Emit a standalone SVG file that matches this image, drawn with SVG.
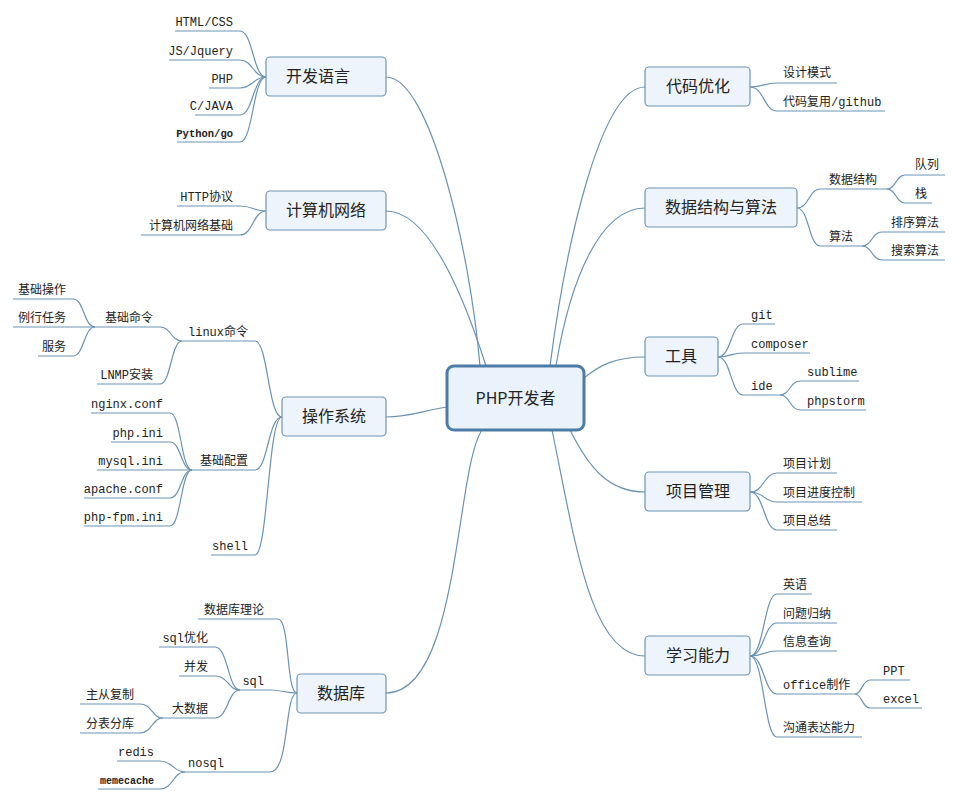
<svg xmlns="http://www.w3.org/2000/svg" width="958" height="800" viewBox="0 0 958 800">
<style>
.c{fill:none;stroke:#6a93b3;stroke-width:1.2}
.m{fill:#eef4fb;stroke:#6f93b3;stroke-width:1.2}
.ctr{fill:#eaf2fb;stroke:#4c7ca6;stroke-width:3}
.t{font-family:"Noto Sans CJK SC","Noto Sans",sans-serif;font-size:16px;fill:#222;text-anchor:middle}
.l{font-family:"Liberation Mono","Noto Sans CJK SC",monospace;font-size:12px;fill:#222}
.e{text-anchor:end}
</style>
<rect width="958" height="800" fill="#fff"/>
<g id="connectors">
<path class="c" d="M386 77 C430 77,470 250,480 366"/>
<path class="c" d="M386 211 C430 211,465 300,486 366"/>
<path class="c" d="M386 417 C410 417,425 410,447 407"/>
<path class="c" d="M386 693 C460 693,455 470,482 430"/>
<path class="c" d="M645 87 C600 87,565 250,550 366"/>
<path class="c" d="M645 208 C600 208,570 280,556 366"/>
<path class="c" d="M645 357 C615 357,600 365,584 378"/>
<path class="c" d="M645 492 C610 492,590 470,570 430"/>
<path class="c" d="M645 656 C590 656,575 540,552 430"/>
<path class="c" d="M175 31 H240 C253 31,253 77,266 77"/>
<path class="c" d="M169 60 H240 C253 60,253 77,266 77"/>
<path class="c" d="M209 88 H240 C253 88,253 77,266 77"/>
<path class="c" d="M195 115 H240 C253 115,253 77,266 77"/>
<path class="c" d="M177 142 H240 C253 142,253 77,266 77"/>
<path class="c" d="M177 206 H240 C253 206,253 211,266 211"/>
<path class="c" d="M141 235 H240 C253 235,253 211,266 211"/>
<path class="c" d="M182 341 H255 C268 341,268 417,282 417"/>
<path class="c" d="M192 470 H255 C268 470,268 417,282 417"/>
<path class="c" d="M211 555 H255 C268 555,268 417,282 417"/>
<path class="c" d="M95 327 H160 C171 327,171 341,182 341"/>
<path class="c" d="M97 384 H160 C171 384,171 341,182 341"/>
<path class="c" d="M13 299 H73 C84 299,84 327,95 327"/>
<path class="c" d="M13 327 H95"/>
<path class="c" d="M38 356 H73 C84 356,84 327,95 327"/>
<path class="c" d="M91 413 H170 C181 413,181 470,192 470"/>
<path class="c" d="M111 442 H170 C181 442,181 470,192 470"/>
<path class="c" d="M97 470 H192"/>
<path class="c" d="M84 498 H170 C181 498,181 470,192 470"/>
<path class="c" d="M84 526 H170 C181 526,181 470,192 470"/>
<path class="c" d="M198 619 H278 C290 619,286 693,297 693"/>
<path class="c" d="M240 690 H270 C283 690,284 693,297 693"/>
<path class="c" d="M185 772 H270 C290 772,284 693,297 693"/>
<path class="c" d="M159 647 H215 C228 647,228 690,240 690"/>
<path class="c" d="M179 676 H215 C228 676,228 690,240 690"/>
<path class="c" d="M163 718 H215 C228 718,228 690,240 690"/>
<path class="c" d="M80 704 H140 C152 704,152 718,163 718"/>
<path class="c" d="M80 733 H140 C152 733,152 718,163 718"/>
<path class="c" d="M117 761 H160 C173 761,173 772,185 772"/>
<path class="c" d="M98 789 H160 C173 789,173 772,185 772"/>
<path class="c" d="M750 87 C764 87,764 83,777 83 H837"/>
<path class="c" d="M750 87 C764 87,764 111,777 111 H885"/>
<path class="c" d="M797 208 C809 208,809 189,820 189 H887"/>
<path class="c" d="M797 208 C809 208,809 246,820 246 H862"/>
<path class="c" d="M887 189 C896 189,896 175,905 175 H945"/>
<path class="c" d="M887 189 C896 189,896 203,905 203 H932"/>
<path class="c" d="M862 246 C872 246,872 232,882 232 H945"/>
<path class="c" d="M862 246 C872 246,872 260,882 260 H945"/>
<path class="c" d="M718 357 C731 357,731 324,743 324 H775"/>
<path class="c" d="M718 357 C731 357,731 353,743 353 H810"/>
<path class="c" d="M718 357 C731 357,731 395,743 395 H780"/>
<path class="c" d="M780 395 C790 395,790 381,800 381 H859"/>
<path class="c" d="M780 395 C790 395,790 410,800 410 H866"/>
<path class="c" d="M750 492 C764 492,764 473,777 473 H837"/>
<path class="c" d="M750 492 C764 492,764 502,777 502 H862"/>
<path class="c" d="M750 492 C764 492,764 530,777 530 H837"/>
<path class="c" d="M750 656 C764 656,764 594,777 594 H812"/>
<path class="c" d="M750 656 C764 656,764 623,777 623 H837"/>
<path class="c" d="M750 656 C764 656,764 651,777 651 H837"/>
<path class="c" d="M750 656 C764 656,764 694,777 694 H855"/>
<path class="c" d="M750 656 C764 656,764 737,777 737 H862"/>
<path class="c" d="M855 694 C862 694,862 680,870 680 H910"/>
<path class="c" d="M855 694 C862 694,862 708,870 708 H922"/>
</g>
<g id="center"><rect class="ctr" x="447" y="366" width="137" height="64" rx="7"/><text class="t" x="515.5" y="404">PHP开发者</text></g>
<g id="n-kaifa"><rect class="m" x="266" y="57" width="120" height="39" rx="4"/><text class="t" x="318" y="82">开发语言</text></g>
<g id="n-wangluo"><rect class="m" x="266" y="191" width="120" height="39" rx="4"/><text class="t" x="326" y="216">计算机网络</text></g>
<g id="n-os"><rect class="m" x="282" y="397" width="104" height="39" rx="4"/><text class="t" x="334" y="422">操作系统</text></g>
<g id="n-db"><rect class="m" x="297" y="674" width="89" height="39" rx="4"/><text class="t" x="341" y="699">数据库</text></g>
<g id="n-code"><rect class="m" x="645" y="67" width="105" height="39" rx="4"/><text class="t" x="698" y="92">代码优化</text></g>
<g id="n-ds"><rect class="m" x="645" y="188" width="152" height="39" rx="4"/><text class="t" x="721" y="213">数据结构与算法</text></g>
<g id="n-tool"><rect class="m" x="645" y="337" width="73" height="39" rx="4"/><text class="t" x="681" y="362">工具</text></g>
<g id="n-pm"><rect class="m" x="645" y="472" width="105" height="39" rx="4"/><text class="t" x="698" y="497">项目管理</text></g>
<g id="n-learn"><rect class="m" x="645" y="636" width="105" height="39" rx="4"/><text class="t" x="698" y="661">学习能力</text></g>
<g id="leaves-left">
<text class="l e" x="233" y="26">HTML/CSS</text>
<text class="l e" x="233" y="55">JS/Jquery</text>
<text class="l e" x="233" y="83">PHP</text>
<text class="l e" x="233" y="110">C/JAVA</text>
<text class="l e" x="233" y="137" style="font-size:10.5px;font-weight:bold">Python/go</text>
<text class="l e" x="233" y="201">HTTP协议</text>
<text class="l e" x="233" y="230">计算机网络基础</text>
<text class="l e" x="248" y="336">linux命令</text>
<text class="l e" x="153" y="322">基础命令</text>
<text class="l e" x="153" y="379">LNMP安装</text>
<text class="l e" x="66" y="294">基础操作</text>
<text class="l e" x="66" y="322">例行任务</text>
<text class="l e" x="66" y="351">服务</text>
<text class="l e" x="163" y="408">nginx.conf</text>
<text class="l e" x="163" y="437">php.ini</text>
<text class="l e" x="163" y="465">mysql.ini</text>
<text class="l e" x="163" y="493">apache.conf</text>
<text class="l e" x="163" y="521">php-fpm.ini</text>
<text class="l e" x="248" y="465">基础配置</text>
<text class="l e" x="248" y="550">shell</text>
<text class="l e" x="264" y="614">数据库理论</text>
<text class="l e" x="264" y="685">sql</text>
<text class="l e" x="224" y="767">nosql</text>
<text class="l e" x="208" y="642">sql优化</text>
<text class="l e" x="208" y="671">并发</text>
<text class="l e" x="208" y="713">大数据</text>
<text class="l e" x="134" y="699">主从复制</text>
<text class="l e" x="134" y="728">分表分库</text>
<text class="l e" x="154" y="756">redis</text>
<text class="l e" x="154" y="784" style="font-size:10px;font-weight:bold">memecache</text>
</g>
<g id="leaves-right">
<text class="l" x="783" y="77">设计模式</text>
<text class="l" x="783" y="106">代码复用/github</text>
<text class="l" x="829" y="184">数据结构</text>
<text class="l" x="829" y="241">算法</text>
<text class="l" x="915" y="169">队列</text>
<text class="l" x="915" y="198">栈</text>
<text class="l" x="891" y="227">排序算法</text>
<text class="l" x="891" y="255">搜索算法</text>
<text class="l" x="751" y="319">git</text>
<text class="l" x="751" y="348">composer</text>
<text class="l" x="751" y="390">ide</text>
<text class="l" x="807" y="376">sublime</text>
<text class="l" x="807" y="405">phpstorm</text>
<text class="l" x="783" y="468">项目计划</text>
<text class="l" x="783" y="497">项目进度控制</text>
<text class="l" x="783" y="525">项目总结</text>
<text class="l" x="783" y="589">英语</text>
<text class="l" x="783" y="618">问题归纳</text>
<text class="l" x="783" y="646">信息查询</text>
<text class="l" x="783" y="689">office制作</text>
<text class="l" x="783" y="732">沟通表达能力</text>
<text class="l" x="883" y="675">PPT</text>
<text class="l" x="883" y="703">excel</text>
</g>
</svg>
